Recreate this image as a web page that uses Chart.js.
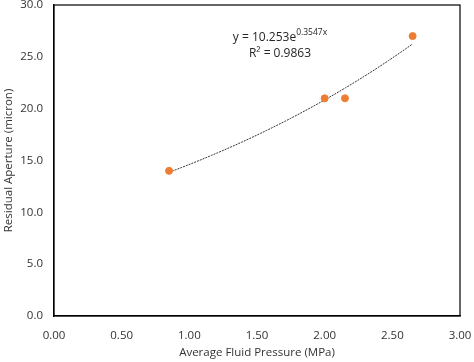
<!DOCTYPE html>
<html>
<head>
<meta charset="utf-8">
<script src="https://cdn.jsdelivr.net/npm/chart.js@4/dist/chart.umd.min.js"></script>
<style>
html,body{margin:0;padding:0;background:#fff;}
#wrap{width:474px;height:362px;position:relative;}
</style>
</head>
<body>
<div id="wrap"><canvas id="c" width="474" height="362"></canvas></div>
<script>
// Data
const pressure = [0.85, 2.00, 2.15, 2.65];
const aperture = [14.0, 21.0, 21.0, 27.0];
// Exponential trendline as displayed: y = a * e^(b x)
const trendA = 10.253;
const trendB = 0.3547;
const trendR2 = 0.9863;
const xTicks = [0, 0.5, 1.0, 1.5, 2.0, 2.5, 3.0];
const yTicks = [0, 5, 10, 15, 20, 25, 30];

const trendPts = [];
for (let i = 0; i <= 40; i++) {
  const x = pressure[0] + (pressure[pressure.length-1] - pressure[0]) * i / 40;
  trendPts.push({x: x, y: trendA * Math.exp(trendB * x)});
}

const FONT = "'Open Sans', 'Liberation Sans', sans-serif";
const txtColor = '#333333';

const annot = {
  id: 'annot',
  afterDraw(chart) {
    const ctx = chart.ctx;
    const ca = chart.chartArea;
    ctx.save();
    ctx.fillStyle = '#262626';
    ctx.textBaseline = 'middle';
    const main = 'y = ' + trendA.toFixed(3) + 'e';
    ctx.font = '12px ' + FONT;
    const w1 = ctx.measureText(main).width;
    ctx.font = '8.5px ' + FONT;
    const sup = trendB.toFixed(4) + 'x';
    const w2 = ctx.measureText(sup).width;
    const cx = 280;
    const x0 = cx - (w1 + w2) / 2;
    ctx.font = '12px ' + FONT;
    ctx.textAlign = 'left';
    ctx.fillText(main, x0, 38);
    ctx.font = '8.5px ' + FONT;
    ctx.fillText(sup, x0 + w1, 33);
    ctx.font = '12px ' + FONT;
    ctx.textAlign = 'center';
    ctx.fillText('R\u00B2 = ' + trendR2.toFixed(4), cx, 54);
    // plot border
    ctx.strokeStyle = '#000';
    ctx.lineWidth = 1.2;
    ctx.strokeRect(ca.left, ca.top, ca.right - ca.left, ca.bottom - ca.top);
    ctx.restore();
  }
};

new Chart(document.getElementById('c'), {
  type: 'scatter',
  data: {
    datasets: [
      {
        label: 'Trend',
        type: 'line',
        data: trendPts,
        borderColor: '#333333',
        borderWidth: 1,
        borderDash: [2, 1],
        pointRadius: 0,
        fill: false,
        tension: 0,
        order: 2
      },
      {
        label: 'Residual aperture',
        data: pressure.map((p, i) => ({x: p, y: aperture[i]})),
        backgroundColor: '#ED7D31',
        borderColor: '#ED7D31',
        pointRadius: 3.5,
        pointHoverRadius: 3.5,
        order: 1
      }
    ]
  },
  options: {
    responsive: false,
    animation: false,
    events: [],
    layout: {padding: {left: 0, right: 14, top: 5, bottom: 0}},
    plugins: {legend: {display: false}, tooltip: {enabled: false}},
    scales: {
      x: {
        type: 'linear',
        min: 0, max: 3,
        afterBuildTicks: (s) => { s.ticks = xTicks.map(v => ({value: v})); },
        afterFit: (s) => { s.height = 46; s.paddingLeft = 0; s.paddingRight = 0; },
        grid: {display: false, drawOnChartArea: false, drawTicks: true, tickLength: 5, tickColor: '#000'},
        border: {display: true, color: '#000', width: 1.2},
        ticks: {color: txtColor, font: {family: FONT, size: 11.5}, padding: 8, callback: (v) => Number(v).toFixed(2), maxRotation: 0},
        title: {display: true, text: 'Average Fluid Pressure (MPa)', color: txtColor, font: {family: FONT, size: 11.5}, padding: {top: 2, bottom: 2}}
      },
      y: {
        type: 'linear',
        min: 0, max: 30,
        afterBuildTicks: (s) => { s.ticks = yTicks.map(v => ({value: v})); },
        afterFit: (s) => { s.width = 54; s.paddingTop = 0; s.paddingBottom = 0; },
        grid: {display: false, drawOnChartArea: false, drawTicks: true, tickLength: 4, tickColor: '#000'},
        border: {display: true, color: '#000', width: 1.2},
        ticks: {color: txtColor, font: {family: FONT, size: 11.5}, padding: 7, callback: (v) => Number(v).toFixed(1)},
        title: {display: true, text: 'Residual Aperture (micron)', color: txtColor, font: {family: FONT, size: 11.5}, padding: {top: 2, bottom: 2}}
      }
    }
  },
  plugins: [annot]
});
</script>
</body>
</html>
